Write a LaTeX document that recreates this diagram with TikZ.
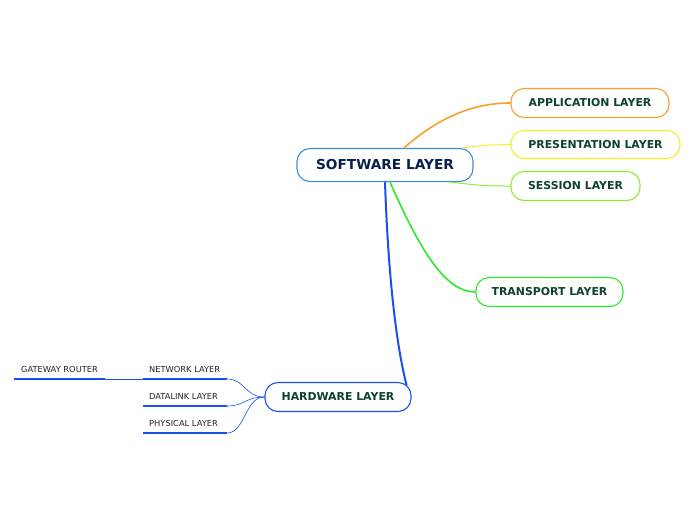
\documentclass[tikz,border=0pt]{standalone}
\usepackage{fontspec}
\setmainfont{DejaVu Sans}
\usetikzlibrary{calc}
\definecolor{swblue}{HTML}{3A8ED6}
\definecolor{corange}{HTML}{F7A02C}
\definecolor{cyellow}{HTML}{F0F028}
\definecolor{clime}{HTML}{8CEE2C}
\definecolor{cgreen}{HTML}{2CE82C}
\definecolor{cblue}{HTML}{1A50F0}
\definecolor{tgreen}{HTML}{0D4232}
\definecolor{tnavy}{HTML}{0B1F4E}
\definecolor{tgray}{HTML}{222222}
\tikzset{
  topic/.style={draw, rounded corners=13pt, line width=1.1pt, fill=white, inner sep=0pt,
    font=\bfseries\fontsize{10.9}{12}\selectfont, text=tgreen, minimum height=29pt},
  leaflabel/.style={anchor=west, inner sep=0pt, font=\fontsize{8.3}{10}\selectfont, text=tgray},
  underline/.style={cblue, line width=2.6pt},
  link/.style={line width=1pt},
}
\begin{document}
\begin{tikzpicture}[x=1pt,y=-1pt]
\useasboundingbox (0,0) rectangle (696,520);

% main nodes
\node[topic, draw=swblue, text=tnavy, minimum width=176pt, minimum height=33pt,
  font=\bfseries\fontsize{13.7}{15}\selectfont] (sw) at (385,165) {SOFTWARE LAYER};
\node[topic, draw=corange, minimum width=158pt] (app) at (590,103) {APPLICATION LAYER};
\node[topic, draw=cyellow, minimum width=169pt, minimum height=28pt] (pres) at (595.5,144.5) {PRESENTATION LAYER};
\node[topic, draw=clime, minimum width=129pt] (ses) at (575.5,186) {SESSION LAYER};
\node[topic, draw=cgreen, minimum width=147pt] (tr) at (549.5,292) {TRANSPORT LAYER};

% connectors from software layer
\draw[link, corange, line width=1.6pt] ($(sw.north)+(19,0)$) .. controls (440,116) and (475,103) .. (app.west);
\draw[link, cyellow] ($(sw.north)+(78,0)$) .. controls (485,145) .. (pres.west);
\draw[link, clime] ($(sw.south)+(65,0)$) .. controls (485,186) .. (ses.west);
\draw[link, cgreen, line width=1.6pt] ($(sw.south)+(5,0)$) .. controls (420,250) and (445,292) .. (tr.west);

\node[topic, draw=cblue, minimum width=146pt] (hw) at (338,397) {HARDWARE LAYER};
\draw[link, cblue, line width=2pt] (sw.south) .. controls (389,300) and (400,360) .. ($(hw.east)+(-5,-12)$);

% leaves
\coordinate (netr) at (227,379);
\coordinate (netl) at (143,379);
\coordinate (datr) at (227,406);
\coordinate (datl) at (143,406);
\coordinate (phyr) at (227,433);
\coordinate (phyl) at (143,433);
\coordinate (gwr) at (105,379);
\coordinate (gwl) at (14,379);

\node[leaflabel] (net) at (149,369.5) {NETWORK LAYER};
\node[leaflabel] (dat) at (149,396.5) {DATALINK LAYER};
\node[leaflabel] (phy) at (149,423.5) {PHYSICAL LAYER};
\node[leaflabel] (gw) at (21,369.5) {GATEWAY ROUTER};

\draw[underline] (netl) -- (netr);
\draw[underline] (datl) -- (datr);
\draw[underline] (phyl) -- (phyr);
\draw[underline] (gwl) -- (gwr);

\draw[cblue, line width=0.6pt] (hw.west) .. controls (245,397) and (245,379) .. (netr);
\draw[cblue, line width=0.6pt] (hw.west) .. controls (245,397) and (245,406) .. (datr);
\draw[cblue, line width=0.6pt] (hw.west) .. controls (245,397) and (245,433) .. (phyr);
\draw[cblue, line width=0.6pt] (netl) -- (gwr);
\end{tikzpicture}
\end{document}
